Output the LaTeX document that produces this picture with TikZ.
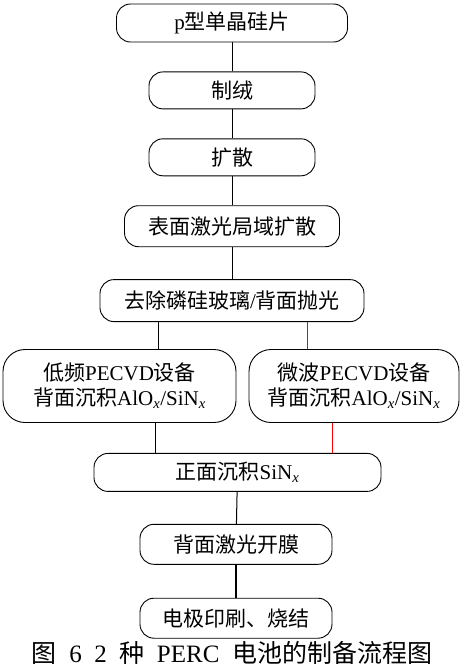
\documentclass[tikz,border=0pt]{standalone}
\usepackage{fontspec}
\setmainfont{Liberation Serif}
\newfontfamily\cjk{Noto Sans CJK SC}
\usetikzlibrary{positioning}
\newcommand{\zh}[1]{{\cjk #1}}
\newcommand{\subx}{\textsubscript{\textit{x}}}

\tikzset{
  stepbox/.style={draw, line width=0.9pt, rounded corners=14pt, minimum height=38pt,
    inner sep=0pt, align=center, font=\fontsize{21}{25}\selectfont},
  twobox/.style={stepbox, rounded corners=22pt, minimum height=73pt},
  link/.style={line width=1pt},
  redlink/.style={link, draw=red}
}

\begin{document}
\begin{tikzpicture}
  \useasboundingbox (0,0) rectangle (463pt,-672pt);
  \node (wafer) [stepbox, minimum width=231pt] at (232pt,-23pt) {p\zh{型单晶硅片}};
  \node (texture) [stepbox, minimum width=166pt, minimum height=37pt, below=29pt of wafer] {\zh{制绒}}
  edge[link] (wafer);
  \node (diffuse) [stepbox, minimum width=166pt, minimum height=37pt, below=29pt of texture] {\zh{扩散}}
  edge[link] (texture);
  \node (laserdop) [stepbox, minimum width=215pt, minimum height=41pt, below=29pt of diffuse] {\zh{表面激光局域扩散}}
  edge[link] (diffuse);
  \node (etch) [stepbox, minimum width=264pt, minimum height=42pt, below=32pt of laserdop] {\zh{去除磷硅玻璃}/\zh{背面抛光}}
  edge[link] (laserdop);
  % two routes for the rear passivation
  \node (lowfreq) [twobox, minimum width=233pt, below=27pt of etch, xshift=-112.5pt]
    {\zh{低频}PECVD\zh{设备}\\\zh{背面沉积}AlO\subx/SiN\subx};
  \node (microwave) [twobox, minimum width=210pt, below=27pt of etch, xshift=122pt]
    {\zh{微波}PECVD\zh{设备}\\\zh{背面沉积}AlO\subx/SiN\subx};
  \node (front) [stepbox, minimum width=287pt, below=30pt of lowfreq, xshift=118pt] {\zh{正面沉积}SiN\subx};
  \node (opening) [stepbox, minimum width=192pt, minimum height=40pt, below=32pt of front, xshift=-1.5pt] {\zh{背面激光开膜}}
  edge[link] (front);
  \node (contact) [stepbox, minimum width=192pt, minimum height=40pt, below=33pt of opening] {\zh{电极印刷、烧结}}
  edge[line width=1.6pt] (opening);
  \node (caption) [font=\fontsize{25}{25}\selectfont, inner sep=0pt] at (232pt,-653pt)
    {\zh{图}\enspace 6\enspace 2\enspace\zh{种}\enspace PERC\enspace\zh{电池的制备流程图}};

  \path (etch.south) ++(-74pt,0) coordinate (lowin);
  \path (etch.south) ++(75pt,0) coordinate (mwin);
  \path (front.north) ++(-82.5pt,0) coordinate (lowout);
  \path (front.north) ++(94.5pt,0) coordinate (mwout);
  \draw[link] (lowin) -- (lowin |- lowfreq.north);
  \draw[redlink] (mwin) -- (mwin |- microwave.north);
  \draw[link] (lowout) -- (lowout |- lowfreq.south);
  \draw[redlink] (mwout) -- (mwout |- microwave.south);
\end{tikzpicture}
\end{document}
